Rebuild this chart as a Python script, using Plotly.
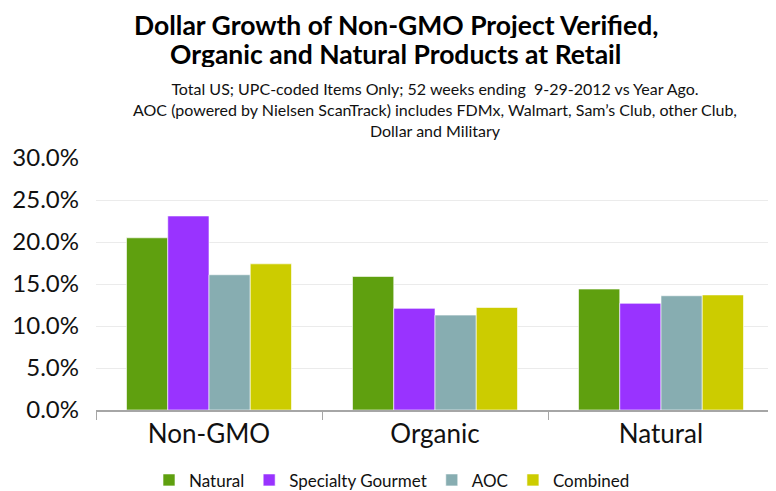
import plotly.graph_objects as go

categories = ["Non-GMO", "Organic", "Natural"]
series_names = ["Natural", "Specialty Gourmet", "AOC", "Combined"]
natural = [20.5, 15.9, 14.4]
specialty_gourmet = [23.1, 12.1, 12.7]
aoc = [16.1, 11.3, 13.6]
combined = [17.4, 12.2, 13.7]
y_ticks = [0, 5, 10, 15, 20, 25, 30]

colors = ["#5FA00F", "#9933FF", "#87ADB1", "#CCCC00"]
values = [natural, specialty_gourmet, aoc, combined]

FONT = "Lato"

fig = go.Figure()
for name, vals, c in zip(series_names, values, colors):
    fig.add_trace(go.Bar(
        x=categories, y=vals, name=name,
        marker=dict(color=c, line=dict(color="rgba(255,255,255,0.6)", width=1)),
    ))

# page has 8px body margin: figure is 768x483 drawn at (8, 8)
fig.update_layout(
    width=768, height=483,
    margin=dict(l=88, r=2, t=150, b=81, autoexpand=False),
    paper_bgcolor="white", plot_bgcolor="white",
    barmode="group", bargap=0.27, bargroupgap=0,
    showlegend=True,
    legend=dict(orientation="h", xref="container", yref="container",
                x=0.5, xanchor="center", y=0.022, yanchor="middle",
                font=dict(family=FONT, size=17, color="#111111"),
                itemwidth=30, tracegroupgap=0, itemclick=False),
    font=dict(family=FONT, color="#111111"),
)

fig.update_yaxes(
    range=[0, 30], tickvals=y_ticks, ticktext=[f"{v:.1f}%" for v in y_ticks],
    showgrid=True, gridcolor="#EBEBEB", gridwidth=1,
    zeroline=False, showline=False, automargin=False,
    tickfont=dict(family=FONT, size=24, color="#111111"),
    ticklabelstandoff=16,
)
fig.update_xaxes(
    showline=True, linecolor="#A6A6A6", linewidth=1.5, automargin=False,
    ticks="outside", tickson="boundaries", ticklen=8, tickcolor="#A6A6A6",
    tickfont=dict(family=FONT, size=26, color="#111111"),
    showgrid=False,
)

for line, shift in [("Dollar Growth of Non-GMO Project Verified,", 134),
                    ("Organic and Natural Products at Retail", 105)]:
    fig.add_annotation(
        text=f"<b>{line}</b>",
        xref="paper", yref="paper", x=0.442, y=1.0, yshift=shift,
        xanchor="center", yanchor="middle", showarrow=False, height=27,
        font=dict(family=FONT, size=26.5, color="#000000"),
    )
fig.add_annotation(
    text="Total US; UPC-coded Items Only; 52 weeks ending  9-29-2012 vs Year Ago.<br>"
         "AOC (powered by Nielsen ScanTrack) includes FDMx, Walmart, Sam’s Club, other Club,<br>"
         "Dollar and Military",
    xref="paper", yref="paper", x=0.5, y=1.0, yshift=81, xanchor="center", yanchor="top",
    showarrow=False, align="center",
    font=dict(family=FONT, size=16, color="#111111"),
)

fig.write_html("out.html")
